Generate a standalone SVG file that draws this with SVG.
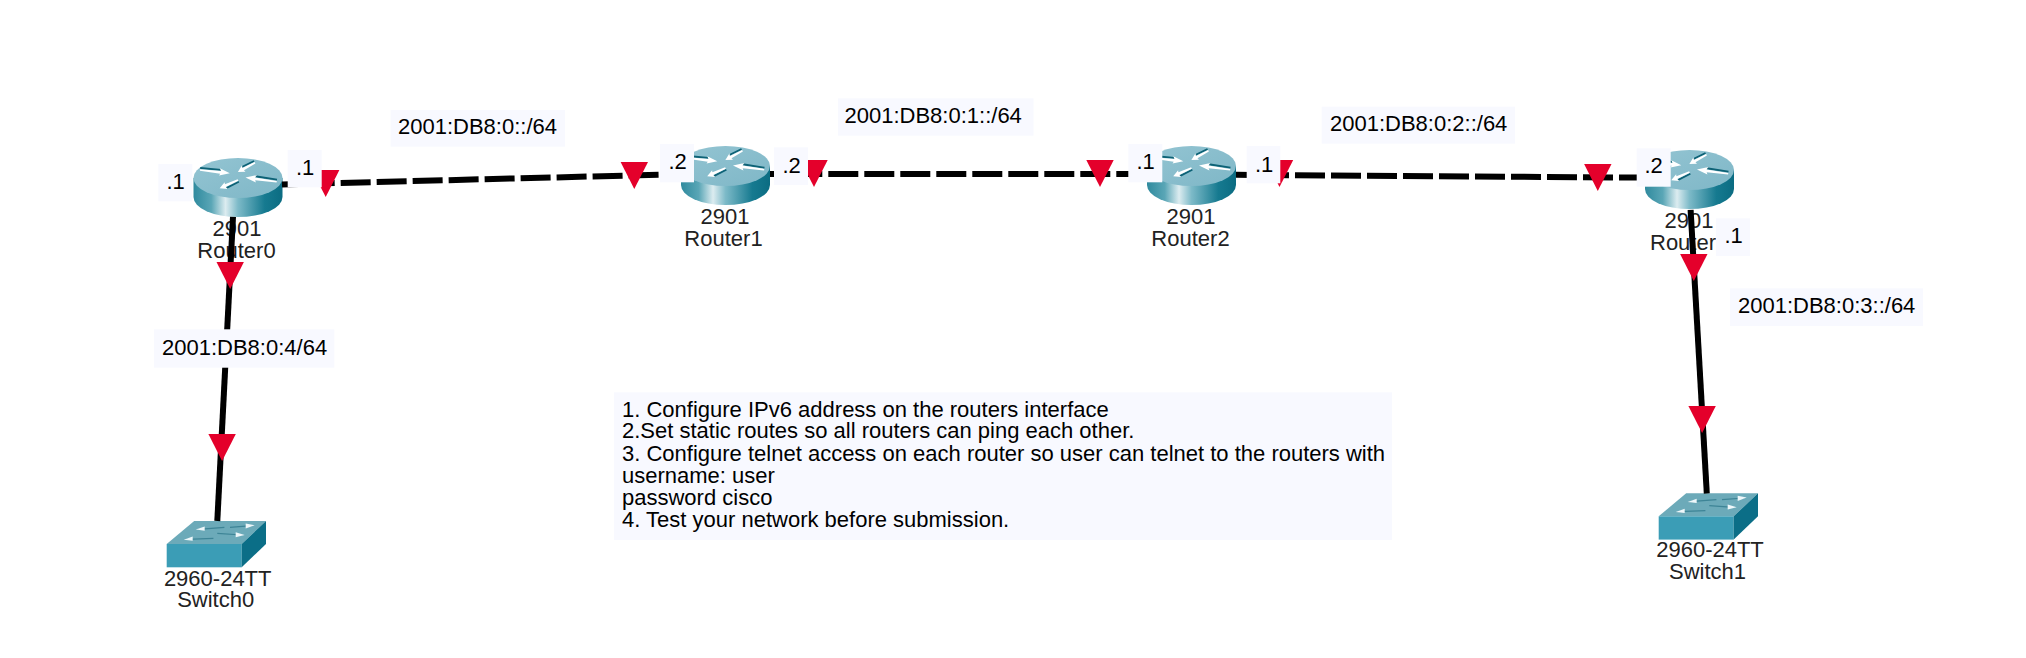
<svg xmlns="http://www.w3.org/2000/svg" width="2026" height="658" viewBox="0 0 2026 658">
<style>
text{font-family:"Liberation Sans",Arial,Helvetica,sans-serif;font-size:22px;fill:#000}
.nl{fill:#222;text-anchor:middle}
.nls{fill:#222}
.box{fill:#f8f9ff}
.link{fill:none;stroke:#000;stroke-width:6}
.dash{stroke-dasharray:30 6}
.tri{fill:#e4002b}
.sa{stroke:#3d8496;stroke-width:1.2;fill:none}
.sh{fill:#eef7fa}
</style>
<defs>
<linearGradient id="rb" x1="0" x2="1" y1="0" y2="0">
<stop offset="0" stop-color="#2f8a9e"/><stop offset=".2" stop-color="#5aa6b6"/><stop offset=".36" stop-color="#dcecf0"/><stop offset=".5" stop-color="#7dbac8"/><stop offset=".8" stop-color="#167a90"/><stop offset="1" stop-color="#0b6c82"/>
</linearGradient>
<linearGradient id="rt" x1="0" x2="1" y1="0" y2="1">
<stop offset="0" stop-color="#93c4d2"/><stop offset="1" stop-color="#7fb7c7"/>
</linearGradient>
<g id="ra">
<path d="M0-2L21-2.4" stroke="#0d6276" stroke-width="1.8" fill="none"/>
<polygon points="0,-0.8 21,-1.2 19.5,-3.8 30,0.2 19.5,3.6 20.5,1.6 0,0.8" fill="#fff"/>
</g>
<g id="router">
<path d="M-44.5 0V19A44.5 20 0 0 0 44.5 19V0Z" fill="url(#rb)"/>
<ellipse rx="44.5" ry="20" fill="url(#rt)"/>
<use href="#ra" transform="translate(-38,-8) rotate(6)"/>
<use href="#ra" transform="translate(38.7,3.7) rotate(188) scale(1.05,-1)"/>
<use href="#ra" transform="translate(17,-15.3) rotate(152) scale(.65,-1)"/>
<use href="#ra" transform="translate(0,2) rotate(155) scale(.67,1)"/>
</g>
<g id="switch">
<polygon points="0,23 27.5,0 99.3,0 75,23" fill="#6caab9"/>
<rect y="23" width="75" height="23.3" fill="#3b9db6"/>
<polygon points="75,23 99.3,0 99.3,23 75,46.3" fill="#0b6e87"/>
<path class="sa" d="M31.7 8.3L57.7 6.3M63.3 6.3L85 4.7M20 18.3L46.7 17.3M50.6 12.3L75 14"/>
<polygon class="sh" points="29,8.6 38,5.4 38,9.8"/>
<polygon class="sh" points="88,4.2 79,2.4 79,7.6"/>
<polygon class="sh" points="17,18.8 26,15.4 26,19.8"/>
<polygon class="sh" points="78,14 69,11.2 69,16.2"/>
</g>
<polygon id="tri" class="tri" points="-13.7,0 13.7,0 0,27"/>
</defs>
<rect width="2026" height="658" fill="#fff"/>

<g id="router0"><use href="#router" x="238" y="178"/><text class="nl" x="237" y="236">2901</text><text class="nl" x="236.5" y="258">Router0</text></g>
<g id="router1"><use href="#router" x="725.5" y="166"/><text class="nl" x="725" y="224">2901</text><text class="nl" x="723.5" y="246">Router1</text></g>
<g id="router2"><use href="#router" x="1191.5" y="166"/><text class="nl" x="1191" y="224">2901</text><text class="nl" x="1190.5" y="246">Router2</text></g>
<g id="router3"><use href="#router" x="1689.5" y="170"/><text class="nl" x="1689" y="228">2901</text><text class="nls" x="1650" y="250">Router</text></g>
<g id="switch0"><use href="#switch" x="166.7" y="521"/><text class="nl" x="217.7" y="585.7">2960-24TT</text><text class="nl" x="215.7" y="607.3">Switch0</text></g>
<g id="switch1"><use href="#switch" x="1658.7" y="493.3"/><text class="nl" x="1710" y="557.3">2960-24TT</text><text class="nl" x="1707.5" y="579.3">Switch1</text></g>

<g id="connectors">
<path class="link dash" stroke-dashoffset="13.3" d="M282 184.4L681 174.2"/>
<path class="link dash" stroke-dashoffset="13.7" d="M770 174L1147 174"/>
<path class="link dash" stroke-dashoffset="13" d="M1236 174.8L1645 177.6"/>
<path class="link" d="M233 216.8L217.3 521"/>
<path class="link" d="M1690.6 209.8L1706.8 493.5"/>
<use href="#tri" x="325.7" y="170"/>
<use href="#tri" x="634.3" y="162"/>
<use href="#tri" x="814" y="160"/>
<use href="#tri" x="1100" y="160"/>
<use href="#tri" x="1279.5" y="160"/>
<use href="#tri" x="1597.8" y="164"/>
<use href="#tri" x="230.2" y="262"/>
<use href="#tri" x="222.1" y="434"/>
<use href="#tri" x="1693.8" y="254"/>
<use href="#tri" x="1702.1" y="406"/>
</g>

<g id="address-labels">
<rect class="box" x="158.3" y="164" width="34" height="37.3"/><text x="166.5" y="189.3">.1</text>
<rect class="box" x="287.7" y="150" width="34" height="37.3"/><text x="296" y="175">.1</text>
<rect class="box" x="660" y="144" width="34" height="38.3"/><text x="668.5" y="169.3">.2</text>
<rect class="box" x="774" y="147.3" width="34" height="37.7"/><text x="782.5" y="172.7">.2</text>
<rect class="box" x="1128.3" y="144" width="34" height="38.3"/><text x="1136.5" y="169">.1</text>
<rect class="box" x="1246.7" y="146" width="33.6" height="37.3"/><text x="1255" y="171.7">.1</text>
<rect class="box" x="1636.7" y="148.3" width="34" height="38.4"/><text x="1644.5" y="172.7">.2</text>
<rect class="box" x="1716" y="218.3" width="34" height="37.7"/><text x="1724.5" y="243.3">.1</text>
</g>
<g id="subnet-labels">
<rect class="box" x="390.6" y="110" width="174.4" height="36.7"/><text x="398" y="134.3">2001:DB8:0::/64</text>
<rect class="box" x="838" y="98.3" width="195.5" height="37.4"/><text x="844.5" y="122.7">2001:DB8:0:1::/64</text>
<rect class="box" x="1321.7" y="106.7" width="193.3" height="37"/><text x="1330" y="131">2001:DB8:0:2::/64</text>
<rect class="box" x="1730" y="288.3" width="193" height="37.7"/><text x="1738" y="312.7">2001:DB8:0:3::/64</text>
<rect class="box" x="154" y="329.3" width="180.3" height="38.4"/><text x="162" y="355">2001:DB8:0:4/64</text>
</g>
<g id="notes">
<rect class="box" x="614" y="392.3" width="778" height="147.7"/>
<text x="622" y="416.5">1. Configure IPv6 address on the routers interface</text>
<text x="622" y="438">2.Set static routes so all routers can ping each other.</text>
<text x="622" y="460.5">3. Configure telnet access on each router so user can telnet to the routers with</text>
<text x="622" y="482.5">username: user</text>
<text x="622" y="504.5">password cisco</text>
<text x="622" y="526.5">4. Test your network before submission.</text>
</g>
</svg>
